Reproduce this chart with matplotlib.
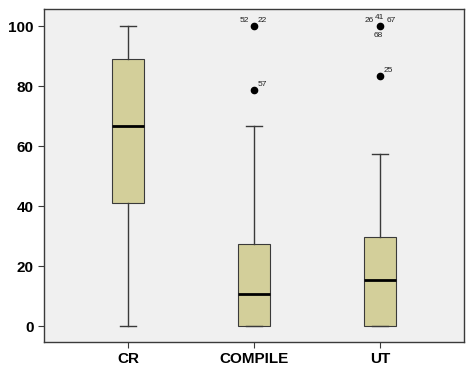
import matplotlib.pyplot as plt

groups = ["CR", "COMPILE", "UT"]
whislo = [0, 0, 0]
q1 = [41, 0, 0]
med = [66.7, 10.7, 15.3]
q3 = [89, 27.3, 29.7]
whishi = [100, 66.7, 57.3]
fliers = [[], [78.6, 100], [83.3, 100]]

# outlier case labels: (group index, value, text, dx, dy) offsets in points
flier_labels = [
    (1, 100, "52", -7, 4), (1, 100, "22", 6, 4),
    (1, 78.6, "57", 6, 4),
    (2, 100, "26", -8, 4), (2, 100, "41", 0, 6), (2, 100, "67", 8, 4),
    (2, 100, "68", -1, -7),
    (2, 83.3, "25", 6, 4),
]

plt.rcParams['font.family'] = ['Liberation Sans', 'DejaVu Sans']

fig = plt.figure(figsize=(4.74, 3.77), dpi=100)
ax = fig.add_axes([44 / 474, 1 - 342 / 377, 420 / 474, 333 / 377])
ax.set_facecolor("#f0f0f0")

stats = []
for i, g in enumerate(groups):
    stats.append(dict(label=g, whislo=whislo[i], q1=q1[i], med=med[i],
                      q3=q3[i], whishi=whishi[i], fliers=fliers[i]))

ax.bxp(stats, positions=[1, 2, 3], widths=0.25, capwidths=0.12,
       patch_artist=True,
       boxprops=dict(facecolor="#d3cf9a", edgecolor="#3a3a3a", linewidth=0.8),
       medianprops=dict(color="black", linewidth=2),
       whiskerprops=dict(color="#3a3a3a", linewidth=1),
       capprops=dict(color="#3a3a3a", linewidth=1),
       flierprops=dict(marker="o", markerfacecolor="black",
                       markeredgecolor="black", markersize=4.5))

for gi, val, txt, dx, dy in flier_labels:
    ax.annotate(txt, (gi + 1, val), xytext=(dx, dy), textcoords="offset points",
                ha="center", va="center", fontsize=6, color="#222222")

ax.set_xlim(0.333, 3.667)
ax.set_ylim(-5.3, 105.7)
ax.set_yticks([0, 20, 40, 60, 80, 100])
ax.tick_params(axis="both", labelsize=11, length=4, color="#3a3a3a")
for lab in ax.get_xticklabels() + ax.get_yticklabels():
    lab.set_fontweight("bold")
for s in ax.spines.values():
    s.set_color("#3a3a3a")
    s.set_linewidth(1)

fig.savefig("out.png", dpi=100, facecolor="white")
